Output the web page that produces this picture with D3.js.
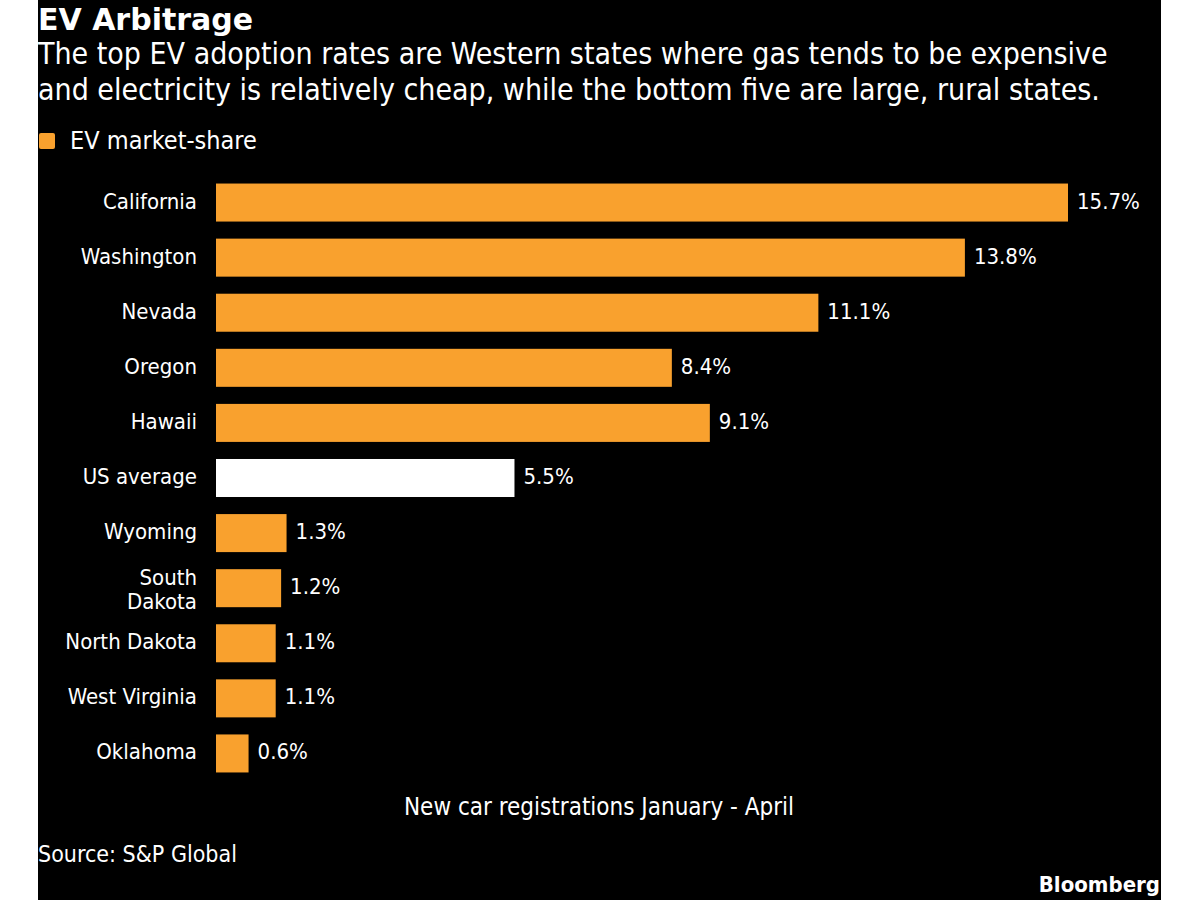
<!DOCTYPE html>
<html>
<head>
    <title>EV Arbitrage</title>
    <script src="https://d3js.org/d3.v7.min.js"></script>
    <style>
        body { margin: 0; background: #fff; }
        svg { display: block; }
        text { font-family: "DejaVu Sans Condensed", "DejaVu Sans", sans-serif; fill: #fff; }
    </style>
</head>
<body>
    <svg id="chart"></svg>
    <script>
        var states = ["California", "Washington", "Nevada", "Oregon", "Hawaii", "US average",
                      "Wyoming", "South Dakota", "North Dakota", "West Virginia", "Oklahoma"];
        var shares = [15.7, 13.8, 11.1, 8.4, 9.1, 5.5, 1.3, 1.2, 1.1, 1.1, 0.6];
        var highlight = ["US average"];

        var orange = "#f9a12e";
        var width = 1200, height = 900;

        var svg = d3.select("#chart")
            .attr("width", width)
            .attr("height", height);

        svg.append("rect")
            .attr("x", 38).attr("y", 0)
            .attr("width", 1123).attr("height", height)
            .attr("fill", "#000");

        // titles
        svg.append("text").attr("x", 38).attr("y", 30)
            .attr("font-size", 30).attr("font-weight", "bold")
            .style("font-family", "'DejaVu Sans'")
            .text("EV Arbitrage");
        svg.append("text").attr("x", 38).attr("y", 64)
            .attr("font-size", 30)
            .text("The top EV adoption rates are Western states where gas tends to be expensive");
        svg.append("text").attr("x", 38).attr("y", 100)
            .attr("font-size", 30)
            .text("and electricity is relatively cheap, while the bottom five are large, rural states.");

        // legend
        svg.append("rect").attr("x", 39).attr("y", 133)
            .attr("width", 16).attr("height", 16).attr("rx", 2)
            .attr("fill", orange);
        svg.append("text").attr("x", 70).attr("y", 149)
            .attr("font-size", 25)
            .text("EV market-share");

        var x = d3.scaleLinear().domain([0, 15.7]).range([216, 1068]);
        var y = d3.scaleBand().domain(states).range([175, 781]).paddingInner(0.31).paddingOuter(0.155);

        var rows = svg.selectAll("g.row")
            .data(states)
            .enter()
            .append("g")
            .attr("class", "row");

        rows.append("rect")
            .attr("x", x(0))
            .attr("y", function(d) { return y(d); })
            .attr("width", function(d, i) { return x(shares[i]) - x(0); })
            .attr("height", y.bandwidth())
            .attr("fill", function(d) { return highlight.indexOf(d) >= 0 ? "#fff" : orange; });

        rows.append("text")
            .attr("x", function(d, i) { return x(shares[i]) + 9; })
            .attr("y", function(d) { return y(d) + y.bandwidth() / 2 + 6; })
            .attr("font-size", 22)
            .text(function(d, i) { return shares[i].toFixed(1) + "%"; });

        // category labels, long ones wrap to two lines
        rows.each(function(d) {
            var t = d3.select(this).append("text")
                .attr("x", 197)
                .attr("text-anchor", "end")
                .attr("font-size", 22);
            var cy = y(d) + y.bandwidth() / 2 + 6;
            if (d === "South Dakota") {
                t.append("tspan").attr("x", 197).attr("y", cy - 9).text("South");
                t.append("tspan").attr("x", 197).attr("y", cy + 15).text("Dakota");
            } else {
                t.attr("y", cy).text(d);
            }
        });

        svg.append("text").attr("x", 599).attr("y", 815)
            .attr("text-anchor", "middle").attr("font-size", 24)
            .text("New car registrations January - April");
        svg.append("text").attr("x", 38).attr("y", 862)
            .attr("font-size", 23)
            .text("Source: S&P Global");
        svg.append("text").attr("x", 1160).attr("y", 892)
            .attr("text-anchor", "end").attr("font-size", 22).attr("font-weight", "bold")
            .text("Bloomberg");
    </script>
</body>
</html>
